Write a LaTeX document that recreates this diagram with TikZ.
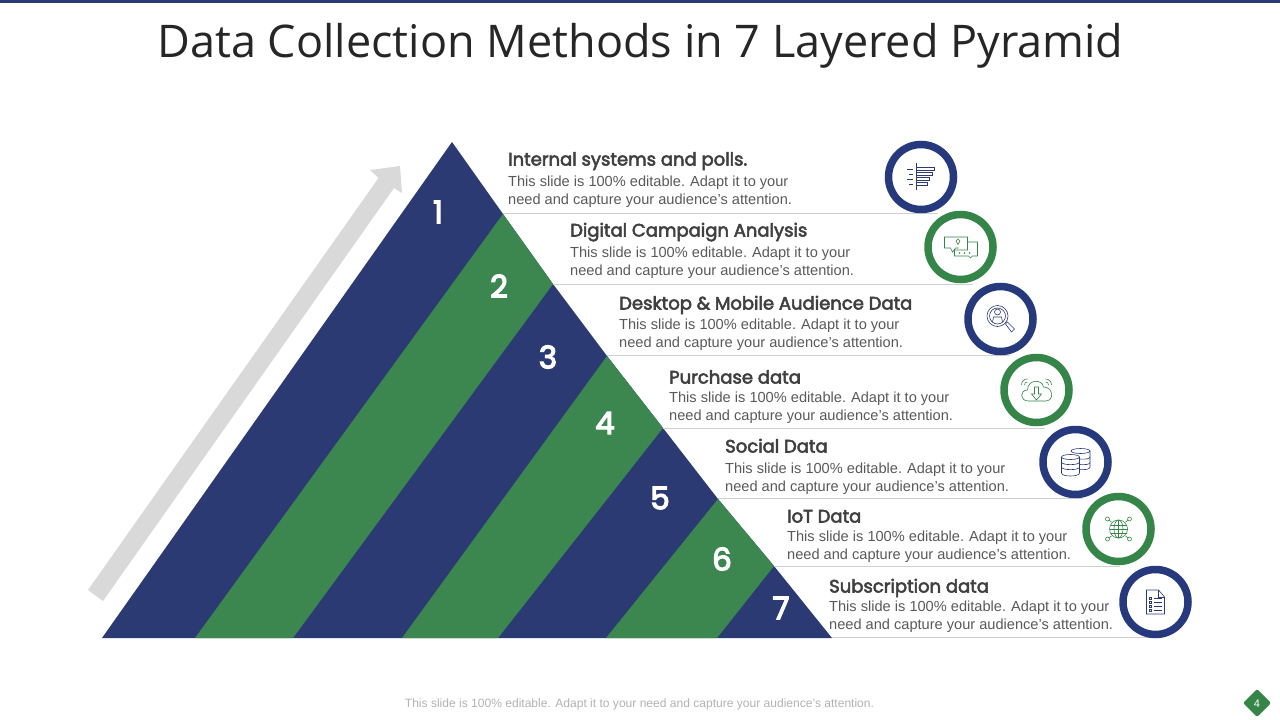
\documentclass[tikz,border=0pt]{standalone}
\usepackage{fontspec}
\setmainfont{Liberation Sans}
\newfontfamily\titlefont{Open Sans}
\newfontfamily\headfont[FakeBold=3]{Poppins}
\newfontfamily\numfont[FakeBold=4]{Poppins}
\definecolor{navy}{HTML}{2B3A72}
\definecolor{ringnavy}{HTML}{26397C}
\definecolor{leaf}{HTML}{3C8750}
\definecolor{ringleaf}{HTML}{358549}
\definecolor{rulegray}{HTML}{D0D0D0}
\definecolor{arrowgray}{HTML}{D9D9D9}
\newcommand{\bodylines}{This slide is 100\% editable.\ \hspace{1pt}Adapt it to your\\need and capture your audience’s attention.}
\tikzset{
	headtext/.style={anchor=base west,inner sep=0pt,text=black!75,font=\headfont\fontsize{18}{18}\selectfont},
	bodytext/.style={anchor=base west,inner sep=0pt,align=left,text=black!65,font=\fontsize{14.6}{18}\selectfont},
	numtext/.style={text=white,inner sep=0pt,font=\numfont\fontsize{31}{31}\selectfont},
	ringnode/.style={circle,draw=#1,fill=white,line width=7.5pt,minimum size=65pt,inner sep=0pt},
	iconline/.style={draw=#1,line width=0.6pt,fill=none},
	sepline/.style={draw=rulegray,line width=0.8pt}
}
\begin{document}
\begin{tikzpicture}[x=1pt,y=-1pt]
	\useasboundingbox (0,0) rectangle (1280,720);
	\fill[navy] (0,0) rectangle (1280,2.5); %top edge
	\node[inner sep=0pt,text=black!85,font=\titlefont\fontsize{45}{45}\selectfont] (title) at (640.5,46) {Data Collection Methods in 7 Layered Pyramid};

	\fill[arrowgray] (88,590) -- (378.5,178) -- (370,170) -- (400,166) -- (402,193) -- (394,188) -- (103,601) -- cycle; %arrow

	\fill[navy] (452,142) -- (503,214) -- (553,284) -- (607,356) -- (663,428) -- (718,499) -- (774,566) -- (832,638) -- (102,638) -- cycle; %pyramid
	\fill[leaf] (503,214) -- (553,284) -- (293,638) -- (195,638) -- cycle; %band2
	\fill[leaf] (607,356) -- (663,428) -- (498,638) -- (402,638) -- cycle; %band4
	\fill[leaf] (718,499) -- (774,566) -- (717,638) -- (606,638) -- cycle; %band6

	\node[numtext] (num1) at (438,212) {1};
	\node[numtext] (num2) at (499,286) {2};
	\node[numtext] (num3) at (548,357) {3};
	\node[numtext] (num4) at (605,423) {4};
	\node[numtext] (num5) at (660,498) {5};
	\node[numtext] (num6) at (722,559) {6};
	\node[numtext] (num7) at (781,608) {7};

	\draw[sepline] (503,213.5) -- (938,213.5);
	\draw[sepline] (553,284) -- (973,284);
	\draw[sepline] (607,355.5) -- (1010,355.5);
	\draw[sepline] (663,428) -- (1045,428);
	\draw[sepline] (718,498.5) -- (1083,498.5);
	\draw[sepline] (774,566.5) -- (1120,566.5);
	\draw[sepline] (832,637.5) -- (1157,637.5);

	\node[headtext] (head1) at (508,165.5) {Internal systems and polls.};
	\node[headtext] (head2) at (570,236.5) {Digital Campaign Analysis};
	\node[headtext] (head3) at (619,309.5) {Desktop \& Mobile Audience Data};
	\node[headtext] (head4) at (669,383.5) {Purchase data};
	\node[headtext] (head5) at (725,452.5) {Social Data};
	\node[headtext] (head6) at (787,522.5) {IoT Data};
	\node[headtext] (head7) at (829,592.5) {Subscription data};

	\node[bodytext] (body1) at (508,204) {\bodylines};
	\node[bodytext] (body2) at (570,275) {\bodylines};
	\node[bodytext] (body3) at (619,347) {\bodylines};
	\node[bodytext] (body4) at (669,420) {\bodylines};
	\node[bodytext] (body5) at (725,491) {\bodylines};
	\node[bodytext] (body6) at (787,559) {\bodylines};
	\node[bodytext] (body7) at (829,629) {\bodylines};

	\node[ringnode=ringnavy] (ring1) at (921,177) {};
	\node[ringnode=ringleaf] (ring2) at (960.5,247) {};
	\node[ringnode=ringnavy] (ring3) at (1000.5,319) {};
	\node[ringnode=ringleaf] (ring4) at (1036.5,390) {};
	\node[ringnode=ringnavy] (ring5) at (1075.5,462) {};
	\node[ringnode=ringleaf] (ring6) at (1118.5,529) {};
	\node[ringnode=ringnavy] (ring7) at (1155.5,602) {};

	%bar chart
	\begin{scope}[shift={(ring1.center)}]
		\draw[iconline=navy] (-5,-14) -- (-5,13);
		\draw[iconline=navy] (-5,-10) rectangle (13,-7);
		\draw[iconline=navy] (-5,-5) rectangle (11,-2);
		\draw[iconline=navy] (-5,0) rectangle (8,3);
		\draw[iconline=navy] (-5,5) rectangle (6,8);
		\draw[iconline=navy] (-14,-8) -- (-8,-8);
		\draw[iconline=navy] (-12,-3) -- (-8,-3);
		\draw[iconline=navy] (-14,2) -- (-8,2);
		\draw[iconline=navy] (-12,7) -- (-8,7);
	\end{scope}

	%chat bubbles
	\begin{scope}[shift={(ring2.center)}]
		\draw[iconline=ringleaf] (7,-5) -- (7,-10) -- (-16,-10) -- (-16,1) -- (-10,1) -- (-8,5) -- (-5,1) -- (-2,1);
		\draw[iconline=ringleaf] (7,-5) -- (17,-5) -- (17,9) -- (12,9) -- (10,11) -- (8,9) -- (-6,9) -- (-6,3) -- (7,3) -- (7,-5);
		\draw[iconline=ringleaf] (-4.5,-6) -- (-2.5,-8) -- (-0.5,-6) -- (-2.5,-2.5) -- cycle;
		\fill[ringleaf] (-1,6) circle (0.9) (4,6) circle (0.9) (9,6) circle (0.9);
	\end{scope}

	%magnifier
	\begin{scope}[shift={(ring3.center)}]
		\draw[iconline=navy] (-3,-3) circle (10.5);
		\draw[iconline=navy] (-3,-3) circle (8);
		\draw[iconline=navy] (-3,-7) circle (3);
		\draw[iconline=navy] (-8,3) -- (-7,-2) -- (1,-2) -- (2,3);
		\draw[iconline=navy] (5,5) -- (7,3) -- (14,10) -- (11,13) -- cycle;
	\end{scope}

	%cloud with arrow
	\begin{scope}[shift={(ring4.center)}]
		\draw[iconline=ringleaf] (-8,11) .. controls (-17,11) and (-17,0) .. (-9,0) .. controls (-9,-11) and (6,-11) .. (7,-3) .. controls (17,-3) and (18,11) .. (9,11) -- cycle;
		\draw[iconline=ringleaf] (-2,-3) -- (2,-3) -- (2,4) -- (5,4) -- (0,10) -- (-5,4) -- (-2,4) -- cycle;
		\draw[iconline=ringleaf] (-12,-5) .. controls (-12,-7) and (-11,-8) .. (-9,-8);
		\draw[iconline=ringleaf] (-15,-5) .. controls (-15,-8.5) and (-12.5,-11) .. (-9,-11);
		\draw[iconline=ringleaf] (12,-5) .. controls (12,-7) and (11,-8) .. (9,-8);
		\draw[iconline=ringleaf] (15,-5) .. controls (15,-8.5) and (12.5,-11) .. (9,-11);
	\end{scope}

	%database
	\begin{scope}[shift={(ring5.center)}]
		\draw[iconline=navy] (5,-11) ellipse (9.5 and 2.5);
		\draw[iconline=navy] (14.5,-11) -- (14.5,5) .. controls (14.5,7.5) and (9,8) .. (4,7.5);
		\draw[iconline=navy] (4,-3) .. controls (9,-2.5) and (14.5,-3) .. (14.5,-5);
		\draw[iconline=navy] (4,2.5) .. controls (9,3) and (14.5,2.5) .. (14.5,0.5);
		\draw[iconline=navy,fill=white] (-5,-5) ellipse (9 and 2.5);
		\draw[iconline=navy] (-14,-5) -- (-14,11) .. controls (-14,15) and (4,15) .. (4,11) -- (4,-5);
		\draw[iconline=navy] (-14,0) .. controls (-14,3.5) and (4,3.5) .. (4,0);
		\draw[iconline=navy] (-14,5) .. controls (-14,8.5) and (4,8.5) .. (4,5);
	\end{scope}

	%globe
	\begin{scope}[shift={(ring6.center)}]
		\draw[iconline=ringleaf] (0,0) circle (9);
		\draw[iconline=ringleaf] (0,0) ellipse (4.5 and 9);
		\draw[iconline=ringleaf] (0,-9) -- (0,9) (-9,0) -- (9,0) (-8,-4) -- (8,-4) (-8,4) -- (8,4);
		\draw[iconline=ringleaf] (-7,-7) -- (-10,-9) (7,-7) -- (10,-9) (-7,7) -- (-10,9) (7,7) -- (10,9);
		\draw[iconline=ringleaf] (-11,-10) circle (2) (11,-10) circle (2) (-11,10) circle (2) (11,10) circle (2);
	\end{scope}

	%document
	\begin{scope}[shift={(ring7.center)}]
		\draw[iconline=navy] (-9,-12) -- (3,-12) -- (9,-5) -- (9,12) -- (-9,12) -- cycle;
		\draw[iconline=navy] (3,-12) -- (3,-5) -- (9,-5);
		\draw[iconline=navy] (-6.5,-5) rectangle (-4.5,-3);
		\draw[iconline=navy] (-6.5,-1) rectangle (-4.5,1);
		\draw[iconline=navy] (-6.5,3) rectangle (-4.5,5);
		\draw[iconline=navy] (-6.5,7) rectangle (-4.5,9);
		\draw[iconline=navy] (-2,-4) -- (6,-4) (-2,0) -- (6,0) (-2,4) -- (6,4) (-2,8) -- (6,8);
	\end{scope}

	\node[inner sep=0pt,text=black!30,font=\fontsize{12.05}{14}\selectfont] (footer) at (639.5,704) {This slide is 100\% editable. Adapt it to your need and capture your audience’s attention.};
	\fill[ringleaf,rounded corners=2pt] (1257,689) -- (1271,703) -- (1257,717) -- (1243,703) -- cycle; %page mark
	\node[inner sep=0pt,text=white,font=\fontsize{11}{11}\selectfont] (page) at (1257,703.5) {4};
\end{tikzpicture}
\end{document}
